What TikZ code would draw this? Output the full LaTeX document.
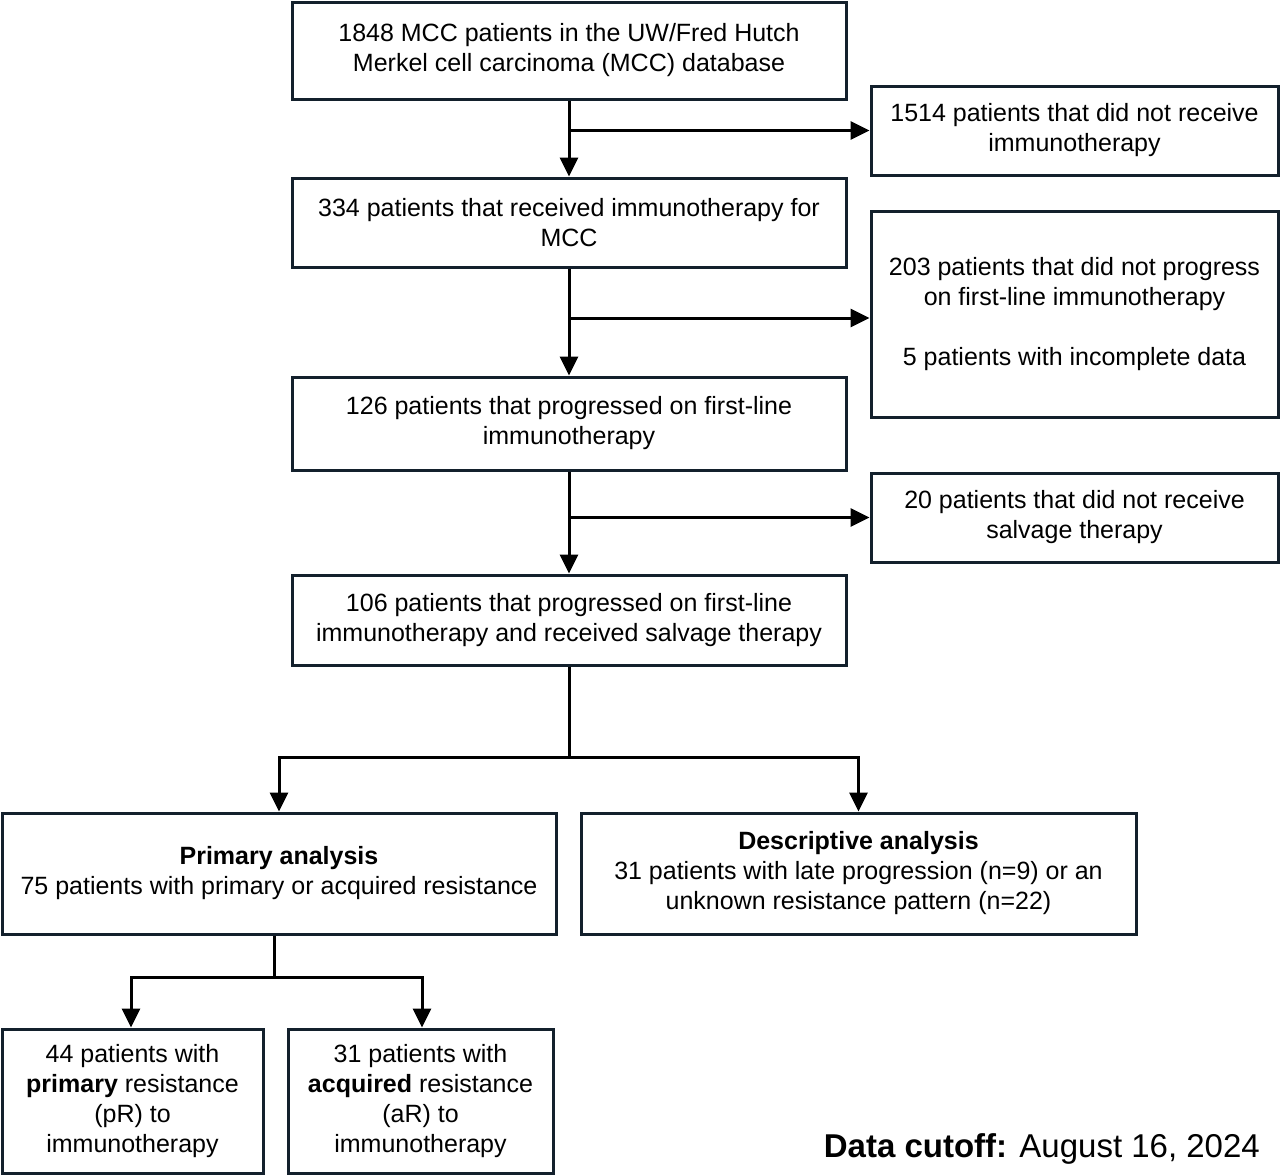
\documentclass[tikz,border=0pt]{standalone}
\usepackage{fontspec}
\setmainfont{Liberation Sans}
\usetikzlibrary{arrows.meta,calc}
\definecolor{boxline}{HTML}{13202C}
\begin{document}
\begin{tikzpicture}[x=1pt,y=-1pt,
  box/.style={draw=boxline,line width=3pt,rectangle,align=center,inner sep=0pt,
    font=\fontsize{25}{30}\selectfont,text=black},
  conn/.style={line width=3pt,black},
  arr/.style={conn,-{Triangle[length=19pt,width=18pt]}}]
\useasboundingbox (0,0) rectangle (1280,1175);
\fill[white] (0,0) rectangle (1280,1175);
\node[box,minimum width=554pt,minimum height=97pt] (top) at (569,50.5)
  {1848 MCC patients in the UW/Fred Hutch\\Merkel cell carcinoma (MCC) database};
\node[box,minimum width=407pt,minimum height=89pt] (r1) at (1074.5,130.5)
  {1514 patients that did not receive\\immunotherapy};
\node[box,minimum width=554pt,minimum height=89pt] (b2) at (569,222.5)
  {334 patients that received immunotherapy for\\MCC};
\node[box,minimum width=407pt,minimum height=206pt] (r2) at (1074.5,314)
  {203 patients that did not progress\\on first-line immunotherapy\\[30pt]5 patients with incomplete data};
\node[box,minimum width=554pt,minimum height=93pt] (b3) at (569,423.5)
  {126 patients that progressed on first-line\\immunotherapy};
\node[box,minimum width=407pt,minimum height=89pt] (r3) at (1074.5,517.5)
  {20 patients that did not receive\\salvage therapy};
\node[box,minimum width=554pt,minimum height=90pt] (b4) at (569,620)
  {106 patients that progressed on first-line\\immunotherapy and received salvage therapy};
\node[box,minimum width=554pt,minimum height=121pt] (prim) at (279,873.5)
  {\textbf{Primary analysis}\\75 patients with primary or acquired resistance};
\node[box,minimum width=555pt,minimum height=121pt] (desc) at (858.5,873.5)
  {\textbf{Descriptive analysis}\\31 patients with late progression (n=9) or an\\unknown resistance pattern (n=22)};
\node[box,minimum width=261pt,minimum height=144pt] (pr) at (132.5,1101)
  {44 patients with\\\textbf{primary} resistance\\(pR) to\\immunotherapy};
\node[box,minimum width=265pt,minimum height=144pt] (ar) at (420.5,1101)
  {31 patients with\\\textbf{acquired} resistance\\(aR) to\\immunotherapy};
\node[anchor=base east,inner sep=0pt,font=\fontsize{33}{40}\selectfont] (cut) at (1260,1157)
  {\textbf{Data cutoff:} August 16, 2024};
% connectors
\draw[arr] (top.south) -- (b2.north);
\draw[arr] (top.south |- r1.west) -- (r1.west);
\draw[arr] (b2.south) -- (b3.north);
\draw[arr] (b2.south |- 0,318) -- (r2.west |- 0,318);
\draw[arr] (b3.south) -- (b4.north);
\draw[arr] (b3.south |- r3.west) -- (r3.west);
\coordinate (s1) at (569,757);
\draw[conn] (b4.south) -- (s1);
\draw[arr] (s1) -| (prim.north);
\draw[arr] (s1) -| (desc.north);
\coordinate (s2) at (274,977);
\draw[conn] (prim.south -| s2) -- (s2);
\draw[arr] (s2) -| (pr.north -| 131,0);
\draw[arr] (s2) -| (ar.north -| 422,0);
\end{tikzpicture}
\end{document}
